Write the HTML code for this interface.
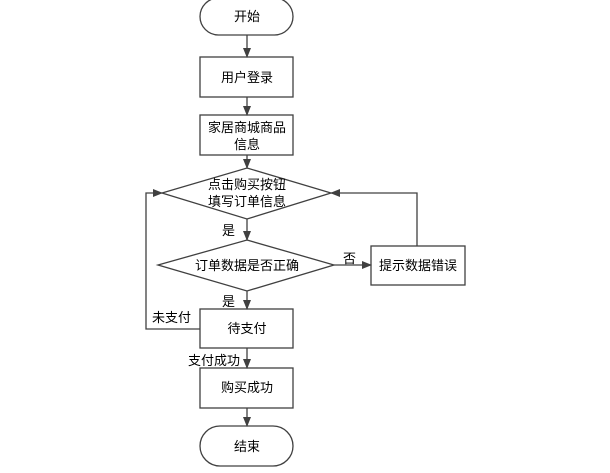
<!DOCTYPE html>
<html><head><meta charset="utf-8"><style>
html,body{margin:0;padding:0;background:#fff;width:610px;height:473px;overflow:hidden}
text{font-family:"Liberation Sans","Noto Sans CJK SC",sans-serif;font-size:13px;fill:#000}
</style></head><body>
<svg width="610" height="473" viewBox="0 0 610 473" xmlns="http://www.w3.org/2000/svg">
<defs><marker id="a" markerWidth="10" markerHeight="10" refX="9" refY="5" orient="auto" markerUnits="userSpaceOnUse"><path d="M0,1 L10,5 L0,9 Z" fill="#404040"/></marker></defs>
<g stroke="#404040" stroke-width="1.3" fill="none">
<rect x="200" y="-2" width="93" height="37" rx="18.5" fill="#fff"/>
<rect x="200" y="57" width="93" height="40" fill="#fff"/>
<rect x="200" y="115" width="93" height="40" fill="#fff"/>
<polygon points="247,168 331,193 247,219 162,193" fill="#fff"/>
<polygon points="247,240 334,265 247,291 158,265" fill="#fff"/>
<rect x="371" y="246" width="94" height="39" fill="#fff"/>
<rect x="200" y="309" width="93" height="39" fill="#fff"/>
<rect x="200" y="368" width="93" height="40" fill="#fff"/>
<rect x="200" y="426" width="93" height="40" rx="20" fill="#fff"/>
<line x1="247" y1="35" x2="247" y2="57" marker-end="url(#a)"/>
<line x1="247" y1="97" x2="247" y2="115" marker-end="url(#a)"/>
<line x1="247" y1="155" x2="247" y2="168" marker-end="url(#a)"/>
<line x1="247" y1="219" x2="247" y2="240" marker-end="url(#a)"/>
<line x1="247" y1="291" x2="247" y2="309" marker-end="url(#a)"/>
<line x1="247" y1="348" x2="247" y2="368" marker-end="url(#a)"/>
<line x1="247" y1="408" x2="247" y2="426" marker-end="url(#a)"/>
<line x1="334" y1="265" x2="371" y2="265" marker-end="url(#a)"/>
<polyline points="417,246 417,193 331,193" marker-end="url(#a)"/>
<polyline points="200,329 146,329 146,193 162,193" marker-end="url(#a)"/>
</g>
<g text-anchor="middle">
<text x="247" y="21">开始</text>
<text x="247" y="82">用户登录</text>
<text x="247" y="132">家居商城商品</text>
<text x="247" y="149">信息</text>
<text x="247" y="189">点击购买按钮</text>
<text x="247" y="206">填写订单信息</text>
<text x="247" y="270">订单数据是否正确</text>
<text x="418" y="270">提示数据错误</text>
<text x="247" y="333">待支付</text>
<text x="247" y="392">购买成功</text>
<text x="247" y="451">结束</text>
</g>
<text x="222" y="235">是</text>
<text x="222" y="306">是</text>
<text x="343" y="263">否</text>
<text x="152" y="322">未支付</text>
<text x="188" y="365">支付成功</text>
</svg>
</body></html>
